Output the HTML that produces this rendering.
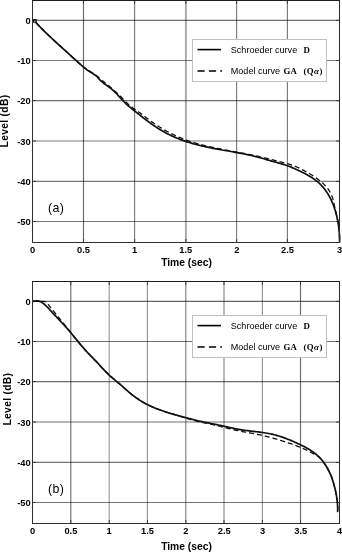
<!DOCTYPE html>
<html><head><meta charset="utf-8"><title>Schroeder curve vs model curve</title>
<style>
html,body{margin:0;padding:0;background:#fff;}
body{width:342px;height:552px;overflow:hidden;}
svg{display:block;}
.gr line{mix-blend-mode:multiply;}
.tk{font-family:"Liberation Sans",Arial,sans-serif;font-weight:bold;font-size:9.3px;fill:#000;}
.ax{font-family:"Liberation Sans",Arial,sans-serif;font-weight:bold;font-size:10.3px;fill:#000;}
.ay{font-family:"Liberation Sans",Arial,sans-serif;font-weight:bold;font-size:10.2px;letter-spacing:0.35px;fill:#000;}
.lg{font-family:"Liberation Sans",Arial,sans-serif;font-size:9.05px;fill:#000;}
.lgb{font-family:"Liberation Serif","Times New Roman",serif;font-weight:bold;font-size:8.8px;fill:#000;}
.pl{font-family:"Liberation Sans",Arial,sans-serif;font-size:12.4px;letter-spacing:0.35px;fill:#000;}
</style></head>
<body>
<svg width="342" height="552" viewBox="0 0 342 552">
<rect width="342" height="552" fill="#fff"/>
<g class="gr">
<line x1="32.5" y1="20.4" x2="339.5" y2="20.4" stroke="#6e6e6e" stroke-width="1.15"/>
<line x1="32.5" y1="60.5" x2="339.5" y2="60.5" stroke="#7c7c7c" stroke-width="1.15"/>
<line x1="32.5" y1="100.6" x2="339.5" y2="100.6" stroke="#6e6e6e" stroke-width="1.15"/>
<line x1="32.5" y1="141.0" x2="339.5" y2="141.0" stroke="#7a7a7a" stroke-width="1.15"/>
<line x1="32.5" y1="181.4" x2="339.5" y2="181.4" stroke="#767676" stroke-width="1.15"/>
<line x1="32.5" y1="221.5" x2="339.5" y2="221.5" stroke="#747474" stroke-width="1.15"/>
<line x1="83.5" y1="0.5" x2="83.5" y2="242.5" stroke="#686868" stroke-width="1.15"/>
<line x1="134.6" y1="0.5" x2="134.6" y2="242.5" stroke="#7c7c7c" stroke-width="1.15"/>
<line x1="185.9" y1="0.5" x2="185.9" y2="242.5" stroke="#a8a8a8" stroke-width="1.9"/>
<line x1="236.6" y1="0.5" x2="236.6" y2="242.5" stroke="#7c7c7c" stroke-width="1.15"/>
<line x1="287.4" y1="0.5" x2="287.4" y2="242.5" stroke="#7a7a7a" stroke-width="1.15"/>
</g>
<line x1="32.5" y1="20.4" x2="36.0" y2="20.4" stroke="#3a3a3a"/>
<line x1="339.5" y1="20.4" x2="336.0" y2="20.4" stroke="#3a3a3a"/>
<line x1="32.5" y1="60.5" x2="36.0" y2="60.5" stroke="#3a3a3a"/>
<line x1="339.5" y1="60.5" x2="336.0" y2="60.5" stroke="#3a3a3a"/>
<line x1="32.5" y1="100.6" x2="36.0" y2="100.6" stroke="#3a3a3a"/>
<line x1="339.5" y1="100.6" x2="336.0" y2="100.6" stroke="#3a3a3a"/>
<line x1="32.5" y1="141.0" x2="36.0" y2="141.0" stroke="#3a3a3a"/>
<line x1="339.5" y1="141.0" x2="336.0" y2="141.0" stroke="#3a3a3a"/>
<line x1="32.5" y1="181.4" x2="36.0" y2="181.4" stroke="#3a3a3a"/>
<line x1="339.5" y1="181.4" x2="336.0" y2="181.4" stroke="#3a3a3a"/>
<line x1="32.5" y1="221.5" x2="36.0" y2="221.5" stroke="#3a3a3a"/>
<line x1="339.5" y1="221.5" x2="336.0" y2="221.5" stroke="#3a3a3a"/>
<line x1="83.5" y1="0.5" x2="83.5" y2="4.0" stroke="#3a3a3a"/>
<line x1="83.5" y1="242.5" x2="83.5" y2="239.0" stroke="#3a3a3a"/>
<line x1="134.6" y1="0.5" x2="134.6" y2="4.0" stroke="#3a3a3a"/>
<line x1="134.6" y1="242.5" x2="134.6" y2="239.0" stroke="#3a3a3a"/>
<line x1="185.9" y1="0.5" x2="185.9" y2="4.0" stroke="#3a3a3a"/>
<line x1="185.9" y1="242.5" x2="185.9" y2="239.0" stroke="#3a3a3a"/>
<line x1="236.6" y1="0.5" x2="236.6" y2="4.0" stroke="#3a3a3a"/>
<line x1="236.6" y1="242.5" x2="236.6" y2="239.0" stroke="#3a3a3a"/>
<line x1="287.4" y1="0.5" x2="287.4" y2="4.0" stroke="#3a3a3a"/>
<line x1="287.4" y1="242.5" x2="287.4" y2="239.0" stroke="#3a3a3a"/>
<rect x="192.5" y="39.5" width="134" height="42" fill="#fff" stroke="#c0c0c0" stroke-width="1"/>
<line x1="197.5" y1="49.6" x2="221" y2="49.6" stroke="#000" stroke-width="1.6"/>
<line x1="197.5" y1="71.0" x2="222" y2="71.0" stroke="#000" stroke-width="1.4" stroke-dasharray="7.2,4.2"/>
<text x="230.8" y="52.6" class="lg">Schroeder curve</text>
<text x="303.4" y="52.6" class="lgb">D</text>
<text x="230.8" y="73.8" class="lg">Model curve</text>
<text x="283.6" y="73.8" class="lgb">GA</text>
<text x="303.4" y="73.8" class="lgb" letter-spacing="0.45">(Q<tspan font-style="italic">α</tspan>)</text>
<polyline points="35.85,22.35 36.83,23.48 37.83,24.61 38.84,25.71 39.87,26.81 40.90,27.89 41.95,28.97 43.00,30.03 44.06,31.08 45.14,32.12 46.22,33.16 47.30,34.19 48.39,35.21 49.49,36.23 50.59,37.24 51.70,38.24 52.81,39.25 53.92,40.25 55.03,41.25 56.15,42.25 57.26,43.25 58.37,44.25 59.49,45.25 60.60,46.25 61.70,47.26 62.81,48.27 63.91,49.29 65.00,50.31 66.09,51.34 67.18,52.37 68.26,53.40 69.34,54.44 70.43,55.47 71.51,56.51 72.60,57.54 73.69,58.56 74.79,59.58 75.89,60.59 77.01,61.58 78.14,62.57 79.28,63.54 80.43,64.49 81.59,65.43 82.78,66.35 83.97,67.25 85.19,68.13 86.41,68.98 87.66,69.81 88.92,70.61 90.20,71.39 91.47,72.18 92.74,72.97 93.98,73.78 95.19,74.64 96.37,75.54 97.51,76.49 98.62,77.48 99.73,78.47 100.84,79.47 101.98,80.44 103.14,81.38 104.31,82.31 105.49,83.24 106.68,84.15 107.86,85.08 109.02,86.01 110.18,86.96 111.33,87.93 112.46,88.90 113.58,89.89 114.69,90.88 115.79,91.89 116.89,92.91 117.97,93.94 119.05,94.98 120.11,96.03 121.17,97.08 122.22,98.15 123.27,99.22 124.31,100.30 125.36,101.38 126.41,102.45 127.48,103.50 128.56,104.52 129.68,105.52 130.83,106.47 132.00,107.38 133.21,108.27 134.43,109.13 135.67,109.98 136.91,110.82 138.15,111.67 139.39,112.52 140.61,113.39 141.82,114.28 143.02,115.18 144.21,116.10 145.39,117.02 146.57,117.94 147.76,118.85 148.95,119.76 150.14,120.66 151.35,121.54 152.56,122.40 153.79,123.25 155.03,124.09 156.27,124.91 157.52,125.72 158.79,126.51 160.06,127.30 161.34,128.08 162.63,128.84 163.93,129.59 165.23,130.34 166.54,131.07 167.86,131.78 169.19,132.49 170.53,133.18 171.87,133.86 173.22,134.52 174.58,135.17 175.94,135.81 177.30,136.43 178.68,137.03 180.06,137.62 181.44,138.19 182.83,138.74 184.22,139.28 185.62,139.81 187.03,140.32 188.44,140.81 189.85,141.29 191.26,141.76 192.69,142.22 194.11,142.66 195.54,143.09 196.97,143.51 198.41,143.92 199.85,144.31 201.29,144.70 202.74,145.08 204.18,145.45 205.64,145.80 207.09,146.15 208.55,146.50 210.00,146.83 211.46,147.16 212.93,147.48 214.39,147.79 215.86,148.10 217.33,148.40 218.80,148.70 220.27,148.99 221.74,149.28 223.21,149.57 224.69,149.85 226.16,150.13 227.63,150.41 229.11,150.68 230.59,150.96 232.06,151.23 233.54,151.50 235.01,151.78 236.49,152.05 237.96,152.32 239.44,152.60 240.91,152.87 242.38,153.15 243.85,153.43 245.32,153.72 246.79,154.00 248.26,154.30 249.72,154.59 251.19,154.89 252.65,155.20 254.11,155.51 255.57,155.82 257.03,156.14 258.48,156.47 259.94,156.79 261.39,157.13 262.84,157.46 264.30,157.80 265.75,158.15 267.20,158.50 268.65,158.85 270.11,159.21 271.56,159.57 273.01,159.93 274.46,160.30 275.91,160.67 277.37,161.04 278.82,161.42 280.28,161.80 281.73,162.18 283.19,162.57 284.64,162.95 286.09,163.34 287.54,163.74 288.97,164.15 290.40,164.58 291.82,165.04 293.23,165.53 294.62,166.05 296.00,166.61 297.37,167.22 298.72,167.87 300.06,168.54 301.39,169.22 302.71,169.92 304.03,170.62 305.35,171.33 306.65,172.05 307.95,172.78 309.24,173.52 310.53,174.28 311.80,175.05 313.06,175.85 314.31,176.66 315.54,177.50 316.76,178.36 317.97,179.24 319.17,180.16 320.34,181.10 321.50,182.07 322.63,183.08 323.74,184.11 324.81,185.18 325.84,186.28 326.83,187.41 327.76,188.58 328.64,189.79 329.46,191.03 330.21,192.30 330.90,193.61 331.50,194.96 332.03,196.35 332.50,197.76 332.92,199.19 333.31,200.65 333.66,202.11 333.99,203.58 334.32,205.05 334.64,206.52 334.96,207.99 335.28,209.45 335.60,210.92 335.92,212.38 336.25,213.84 336.58,215.30 336.90,216.76 337.23,218.22 337.54,219.68 337.84,221.15 338.12,222.62 338.37,224.09 338.60,225.57 338.80,227.05 338.98,228.54 339.14,230.03 339.27,231.52 339.38,233.02 339.47,234.52 339.54,236.01 339.58,237.51 339.61,239.01 339.61,240.51 339.60,242.00" fill="none" stroke="#111" stroke-width="1.3" stroke-dasharray="5,3"/>
<polyline points="35.79,22.41 36.81,23.51 37.84,24.59 38.88,25.68 39.92,26.75 40.96,27.82 42.02,28.89 43.07,29.95 44.14,31.00 45.20,32.05 46.28,33.09 47.35,34.13 48.43,35.16 49.52,36.20 50.60,37.22 51.69,38.25 52.79,39.27 53.88,40.29 54.98,41.30 56.08,42.31 57.18,43.32 58.29,44.33 59.39,45.34 60.50,46.35 61.61,47.35 62.72,48.36 63.83,49.36 64.94,50.36 66.05,51.37 67.16,52.37 68.27,53.37 69.38,54.38 70.49,55.38 71.60,56.39 72.70,57.40 73.81,58.41 74.91,59.42 76.01,60.44 77.12,61.45 78.22,62.46 79.33,63.47 80.44,64.47 81.56,65.46 82.70,66.43 83.85,67.39 85.01,68.33 86.19,69.24 87.39,70.13 88.62,70.99 89.87,71.81 91.15,72.61 92.44,73.38 93.72,74.16 94.97,74.96 96.15,75.83 97.22,76.81 98.18,77.92 99.12,79.07 100.11,80.18 101.18,81.22 102.30,82.20 103.48,83.13 104.68,84.03 105.91,84.90 107.15,85.75 108.38,86.61 109.61,87.48 110.81,88.38 111.98,89.31 113.10,90.29 114.20,91.30 115.27,92.35 116.31,93.42 117.34,94.51 118.35,95.62 119.36,96.73 120.36,97.85 121.37,98.96 122.38,100.06 123.41,101.15 124.45,102.23 125.52,103.27 126.61,104.29 127.72,105.28 128.84,106.26 129.98,107.22 131.14,108.16 132.30,109.10 133.47,110.03 134.64,110.96 135.81,111.89 136.98,112.82 138.16,113.75 139.33,114.68 140.51,115.61 141.69,116.54 142.87,117.46 144.05,118.38 145.24,119.29 146.43,120.20 147.63,121.10 148.83,121.99 150.03,122.87 151.25,123.75 152.47,124.61 153.69,125.46 154.93,126.31 156.17,127.14 157.42,127.95 158.68,128.75 159.95,129.54 161.23,130.31 162.52,131.07 163.82,131.81 165.13,132.53 166.45,133.23 167.79,133.92 169.13,134.59 170.48,135.24 171.84,135.88 173.21,136.50 174.58,137.10 175.96,137.69 177.34,138.26 178.72,138.82 180.12,139.36 181.51,139.89 182.91,140.40 184.32,140.90 185.73,141.38 187.15,141.85 188.57,142.31 189.99,142.75 191.42,143.18 192.86,143.59 194.29,143.99 195.74,144.38 197.18,144.76 198.63,145.13 200.08,145.49 201.53,145.84 202.99,146.18 204.45,146.51 205.91,146.83 207.38,147.15 208.84,147.45 210.31,147.75 211.78,148.05 213.25,148.34 214.73,148.62 216.20,148.90 217.68,149.17 219.15,149.44 220.63,149.70 222.11,149.97 223.58,150.23 225.06,150.49 226.54,150.75 228.01,151.00 229.49,151.26 230.97,151.52 232.44,151.78 233.92,152.04 235.39,152.30 236.86,152.56 238.34,152.83 239.81,153.11 241.27,153.39 242.74,153.67 244.21,153.96 245.67,154.26 247.13,154.56 248.59,154.87 250.05,155.20 251.51,155.53 252.96,155.87 254.41,156.22 255.86,156.58 257.31,156.96 258.75,157.34 260.19,157.74 261.63,158.14 263.07,158.55 264.51,158.97 265.95,159.39 267.38,159.81 268.82,160.23 270.26,160.65 271.70,161.07 273.15,161.48 274.59,161.89 276.04,162.29 277.49,162.69 278.94,163.09 280.38,163.50 281.82,163.92 283.25,164.35 284.68,164.80 286.09,165.27 287.49,165.77 288.88,166.29 290.27,166.83 291.64,167.39 293.01,167.96 294.38,168.56 295.74,169.17 297.09,169.79 298.45,170.43 299.80,171.08 301.16,171.74 302.51,172.41 303.86,173.09 305.20,173.79 306.53,174.51 307.85,175.24 309.16,175.99 310.45,176.77 311.73,177.57 312.98,178.39 314.21,179.24 315.42,180.12 316.60,181.02 317.76,181.96 318.88,182.93 319.97,183.94 321.02,184.98 322.04,186.06 323.02,187.16 323.97,188.30 324.88,189.47 325.77,190.67 326.62,191.90 327.43,193.15 328.22,194.42 328.97,195.72 329.70,197.04 330.39,198.38 331.06,199.73 331.69,201.10 332.30,202.49 332.88,203.89 333.43,205.30 333.95,206.72 334.45,208.15 334.92,209.58 335.37,211.03 335.79,212.47 336.19,213.92 336.56,215.37 336.91,216.82 337.23,218.27 337.54,219.73 337.82,221.18 338.08,222.64 338.31,224.11 338.53,225.57 338.72,227.04 338.90,228.52 339.05,229.99 339.18,231.48 339.30,232.96 339.39,234.46 339.47,235.96 339.52,237.46 339.56,238.97 339.58,240.49 339.59,242.02" fill="none" stroke="#111" stroke-width="1.7" stroke-linejoin="round" stroke-linecap="round"/>
<rect x="33.5" y="19.6" width="2.6" height="2.6" fill="none" stroke="#111" stroke-width="1.1"/>
<line x1="32.0" y1="0.5" x2="340.0" y2="0.5" stroke="#1c1c1c"/>
<line x1="32.5" y1="0.5" x2="32.5" y2="243.0" stroke="#303030"/>
<line x1="339.5" y1="0.5" x2="339.5" y2="243.0" stroke="#282828"/>
<line x1="32.5" y1="242.5" x2="340.0" y2="242.5" stroke="#303030"/>
<text x="30.7" y="23.9" class="tk" text-anchor="end">0</text>
<text x="30.7" y="64.0" class="tk" text-anchor="end">-10</text>
<text x="30.7" y="104.1" class="tk" text-anchor="end">-20</text>
<text x="30.7" y="144.5" class="tk" text-anchor="end">-30</text>
<text x="30.7" y="184.9" class="tk" text-anchor="end">-40</text>
<text x="30.7" y="225.0" class="tk" text-anchor="end">-50</text>
<text x="32.5" y="253.1" class="tk" text-anchor="middle">0</text>
<text x="83.5" y="253.1" class="tk" text-anchor="middle">0.5</text>
<text x="134.5" y="253.1" class="tk" text-anchor="middle">1</text>
<text x="185.8" y="253.1" class="tk" text-anchor="middle">1.5</text>
<text x="236.8" y="253.1" class="tk" text-anchor="middle">2</text>
<text x="287.5" y="253.1" class="tk" text-anchor="middle">2.5</text>
<text x="339.5" y="253.1" class="tk" text-anchor="middle">3</text>
<text x="186.5" y="265.6" class="ax" text-anchor="middle">Time (sec)</text>
<text transform="translate(8.0,121) rotate(-90)" class="ay" text-anchor="middle">Level (dB)</text>
<text x="48" y="212.3" class="pl">(a)</text>
<g class="gr">
<line x1="32.5" y1="301.4" x2="339.5" y2="301.4" stroke="#666666" stroke-width="1.15"/>
<line x1="32.5" y1="341.5" x2="339.5" y2="341.5" stroke="#6e6e6e" stroke-width="1.15"/>
<line x1="32.5" y1="381.6" x2="339.5" y2="381.6" stroke="#6e6e6e" stroke-width="1.15"/>
<line x1="32.5" y1="422.0" x2="339.5" y2="422.0" stroke="#707070" stroke-width="1.15"/>
<line x1="32.5" y1="462.4" x2="339.5" y2="462.4" stroke="#747474" stroke-width="1.15"/>
<line x1="32.5" y1="502.5" x2="339.5" y2="502.5" stroke="#747474" stroke-width="1.15"/>
<line x1="70.8" y1="281.5" x2="70.8" y2="523.5" stroke="#727272" stroke-width="1.15"/>
<line x1="109.2" y1="281.5" x2="109.2" y2="523.5" stroke="#9a9a9a" stroke-width="1.15"/>
<line x1="147.4" y1="281.5" x2="147.4" y2="523.5" stroke="#969696" stroke-width="1.15"/>
<line x1="185.8" y1="281.5" x2="185.8" y2="523.5" stroke="#828282" stroke-width="1.15"/>
<line x1="224.0" y1="281.5" x2="224.0" y2="523.5" stroke="#868686" stroke-width="1.15"/>
<line x1="262.4" y1="281.5" x2="262.4" y2="523.5" stroke="#929292" stroke-width="1.15"/>
<line x1="300.5" y1="281.5" x2="300.5" y2="523.5" stroke="#6c6c6c" stroke-width="1.15"/>
</g>
<line x1="32.5" y1="301.4" x2="36.0" y2="301.4" stroke="#3a3a3a"/>
<line x1="339.5" y1="301.4" x2="336.0" y2="301.4" stroke="#3a3a3a"/>
<line x1="32.5" y1="341.5" x2="36.0" y2="341.5" stroke="#3a3a3a"/>
<line x1="339.5" y1="341.5" x2="336.0" y2="341.5" stroke="#3a3a3a"/>
<line x1="32.5" y1="381.6" x2="36.0" y2="381.6" stroke="#3a3a3a"/>
<line x1="339.5" y1="381.6" x2="336.0" y2="381.6" stroke="#3a3a3a"/>
<line x1="32.5" y1="422.0" x2="36.0" y2="422.0" stroke="#3a3a3a"/>
<line x1="339.5" y1="422.0" x2="336.0" y2="422.0" stroke="#3a3a3a"/>
<line x1="32.5" y1="462.4" x2="36.0" y2="462.4" stroke="#3a3a3a"/>
<line x1="339.5" y1="462.4" x2="336.0" y2="462.4" stroke="#3a3a3a"/>
<line x1="32.5" y1="502.5" x2="36.0" y2="502.5" stroke="#3a3a3a"/>
<line x1="339.5" y1="502.5" x2="336.0" y2="502.5" stroke="#3a3a3a"/>
<line x1="70.8" y1="281.5" x2="70.8" y2="285.0" stroke="#3a3a3a"/>
<line x1="70.8" y1="523.5" x2="70.8" y2="520.0" stroke="#3a3a3a"/>
<line x1="109.2" y1="281.5" x2="109.2" y2="285.0" stroke="#3a3a3a"/>
<line x1="109.2" y1="523.5" x2="109.2" y2="520.0" stroke="#3a3a3a"/>
<line x1="147.4" y1="281.5" x2="147.4" y2="285.0" stroke="#3a3a3a"/>
<line x1="147.4" y1="523.5" x2="147.4" y2="520.0" stroke="#3a3a3a"/>
<line x1="185.8" y1="281.5" x2="185.8" y2="285.0" stroke="#3a3a3a"/>
<line x1="185.8" y1="523.5" x2="185.8" y2="520.0" stroke="#3a3a3a"/>
<line x1="224.0" y1="281.5" x2="224.0" y2="285.0" stroke="#3a3a3a"/>
<line x1="224.0" y1="523.5" x2="224.0" y2="520.0" stroke="#3a3a3a"/>
<line x1="262.4" y1="281.5" x2="262.4" y2="285.0" stroke="#3a3a3a"/>
<line x1="262.4" y1="523.5" x2="262.4" y2="520.0" stroke="#3a3a3a"/>
<line x1="300.5" y1="281.5" x2="300.5" y2="285.0" stroke="#3a3a3a"/>
<line x1="300.5" y1="523.5" x2="300.5" y2="520.0" stroke="#3a3a3a"/>
<rect x="192.5" y="315.5" width="134" height="42" fill="#fff" stroke="#c0c0c0" stroke-width="1"/>
<line x1="197.5" y1="325.6" x2="221" y2="325.6" stroke="#000" stroke-width="1.6"/>
<line x1="197.5" y1="347.0" x2="222" y2="347.0" stroke="#000" stroke-width="1.4" stroke-dasharray="7.2,4.2"/>
<text x="230.8" y="328.6" class="lg">Schroeder curve</text>
<text x="303.4" y="328.6" class="lgb">D</text>
<text x="230.8" y="349.8" class="lg">Model curve</text>
<text x="283.6" y="349.8" class="lgb">GA</text>
<text x="303.4" y="349.8" class="lgb" letter-spacing="0.45">(Q<tspan font-style="italic">α</tspan>)</text>
<polyline points="33.00,301.30 34.49,301.42 35.98,301.47 37.47,301.46 38.96,301.44 40.47,301.41 41.98,301.41 43.51,301.47 45.03,301.63 46.36,302.15 47.33,303.21 48.22,304.40 49.12,305.59 50.02,306.77 50.94,307.95 51.86,309.13 52.79,310.30 53.73,311.46 54.67,312.63 55.61,313.78 56.56,314.94 57.51,316.09 58.46,317.24 59.42,318.39 60.37,319.54 61.32,320.69 62.27,321.84 63.21,322.99 64.15,324.15 65.09,325.32 66.01,326.49 66.94,327.66 67.86,328.84 68.78,330.02 69.70,331.20 70.61,332.38 71.53,333.56 72.45,334.73 73.38,335.91 74.30,337.08 75.23,338.25 76.17,339.42 77.12,340.57 78.07,341.73 79.03,342.87 80.00,344.01 80.97,345.14 81.96,346.27 82.95,347.39 83.94,348.50 84.94,349.61 85.95,350.72 86.96,351.82 87.98,352.92 89.00,354.01 90.02,355.10 91.05,356.19 92.08,357.28 93.10,358.36 94.13,359.45 95.17,360.53 96.20,361.62 97.23,362.70 98.26,363.79 99.29,364.87 100.32,365.95 101.35,367.03 102.39,368.11 103.42,369.18 104.47,370.25 105.52,371.32 106.57,372.37 107.63,373.42 108.70,374.46 109.78,375.49 110.87,376.52 111.97,377.53 113.07,378.53 114.20,379.51 115.33,380.49 116.47,381.45 117.62,382.41 118.77,383.37 119.92,384.33 121.07,385.28 122.22,386.25 123.35,387.21 124.49,388.19 125.61,389.17 126.74,390.15 127.87,391.13 129.00,392.10 130.14,393.06 131.28,394.02 132.44,394.96 133.61,395.88 134.80,396.79 136.00,397.67 137.22,398.54 138.46,399.38 139.71,400.20 140.98,401.00 142.26,401.78 143.55,402.53 144.86,403.27 146.18,403.98 147.51,404.67 148.85,405.34 150.20,405.99 151.56,406.62 152.93,407.22 154.31,407.80 155.69,408.36 157.08,408.90 158.48,409.42 159.89,409.92 161.30,410.41 162.71,410.89 164.13,411.35 165.55,411.80 166.98,412.25 168.41,412.69 169.84,413.12 171.27,413.55 172.70,413.98 174.13,414.41 175.57,414.84 177.00,415.27 178.43,415.71 179.86,416.15 181.29,416.60 182.71,417.05 184.14,417.51 185.57,417.97 186.99,418.42 188.42,418.87 189.85,419.31 191.28,419.73 192.72,420.15 194.16,420.55 195.60,420.93 197.05,421.29 198.50,421.64 199.96,421.97 201.42,422.29 202.88,422.60 204.34,422.91 205.81,423.21 207.27,423.51 208.74,423.81 210.20,424.11 211.67,424.41 213.13,424.73 214.59,425.05 216.05,425.38 217.50,425.73 218.96,426.08 220.41,426.44 221.86,426.80 223.31,427.16 224.76,427.53 226.21,427.89 227.66,428.26 229.11,428.62 230.57,428.97 232.02,429.32 233.48,429.67 234.93,430.00 236.39,430.32 237.85,430.63 239.32,430.93 240.79,431.22 242.25,431.50 243.72,431.78 245.20,432.05 246.67,432.31 248.14,432.58 249.61,432.85 251.08,433.12 252.55,433.39 254.02,433.67 255.49,433.96 256.95,434.26 258.42,434.56 259.88,434.88 261.33,435.21 262.79,435.55 264.24,435.89 265.70,436.25 267.15,436.62 268.59,436.99 270.04,437.38 271.48,437.77 272.92,438.17 274.36,438.58 275.80,438.99 277.23,439.41 278.66,439.84 280.09,440.28 281.52,440.72 282.95,441.17 284.38,441.62 285.80,442.08 287.22,442.54 288.64,443.01 290.05,443.49 291.47,443.98 292.88,444.47 294.28,444.98 295.68,445.50 297.08,446.03 298.47,446.57 299.86,447.13 301.24,447.70 302.62,448.29 303.98,448.89 305.34,449.51 306.69,450.15 308.04,450.81 309.37,451.48 310.69,452.17 312.01,452.88 313.32,453.60 314.62,454.34 315.92,455.08 317.22,455.82 318.49,456.61 319.68,457.47 320.77,458.46 321.76,459.55 322.67,460.73 323.51,461.97 324.31,463.26 325.08,464.58 325.83,465.92 326.58,467.24 327.34,468.54 328.12,469.82 328.88,471.09 329.62,472.37 330.32,473.66 330.95,474.99 331.51,476.36 332.02,477.76 332.48,479.18 332.89,480.63 333.28,482.09 333.65,483.56 334.01,485.02 334.37,486.49 334.73,487.95 335.08,489.41 335.42,490.87 335.74,492.33 336.05,493.79 336.35,495.25 336.62,496.71 336.87,498.18 337.09,499.65 337.28,501.12 337.44,502.60 337.57,504.08 337.66,505.57 337.70,507.07 337.71,508.57 337.67,510.09 337.58,511.61" fill="none" stroke="#111" stroke-width="1.3" stroke-dasharray="5,3"/>
<polyline points="32.98,301.34 34.57,301.03 36.13,300.88 37.64,300.92 39.09,301.15 40.45,301.60 41.72,302.26 42.91,303.09 44.06,304.02 45.17,305.00 46.24,306.03 47.30,307.09 48.33,308.19 49.36,309.29 50.38,310.41 51.39,311.53 52.42,312.64 53.44,313.75 54.47,314.85 55.49,315.94 56.52,317.03 57.55,318.12 58.58,319.21 59.61,320.30 60.63,321.39 61.66,322.48 62.68,323.57 63.69,324.67 64.70,325.77 65.70,326.87 66.70,327.99 67.69,329.11 68.67,330.24 69.64,331.37 70.61,332.52 71.57,333.67 72.53,334.82 73.48,335.98 74.43,337.14 75.38,338.31 76.33,339.47 77.28,340.64 78.23,341.80 79.19,342.96 80.15,344.11 81.11,345.26 82.08,346.41 83.05,347.55 84.04,348.68 85.03,349.80 86.03,350.92 87.05,352.02 88.07,353.11 89.11,354.19 90.15,355.26 91.20,356.33 92.25,357.40 93.30,358.46 94.35,359.53 95.39,360.61 96.43,361.69 97.46,362.78 98.48,363.88 99.49,364.99 100.50,366.11 101.50,367.22 102.51,368.33 103.53,369.44 104.55,370.53 105.59,371.62 106.64,372.68 107.71,373.73 108.80,374.76 109.91,375.76 111.04,376.74 112.19,377.71 113.34,378.67 114.50,379.62 115.66,380.57 116.81,381.53 117.96,382.49 119.09,383.47 120.22,384.45 121.33,385.45 122.44,386.45 123.55,387.46 124.66,388.46 125.77,389.46 126.90,390.45 128.03,391.43 129.17,392.40 130.33,393.35 131.50,394.29 132.68,395.21 133.88,396.12 135.09,397.01 136.32,397.88 137.55,398.73 138.80,399.56 140.06,400.38 141.34,401.17 142.62,401.95 143.92,402.70 145.23,403.43 146.55,404.14 147.88,404.82 149.22,405.48 150.57,406.12 151.93,406.74 153.30,407.34 154.68,407.92 156.07,408.48 157.46,409.03 158.86,409.56 160.27,410.07 161.68,410.57 163.10,411.05 164.52,411.53 165.95,411.99 167.38,412.44 168.81,412.89 170.25,413.32 171.69,413.75 173.13,414.17 174.57,414.59 176.01,415.00 177.46,415.40 178.90,415.81 180.35,416.20 181.79,416.60 183.24,416.99 184.69,417.38 186.13,417.76 187.58,418.14 189.03,418.52 190.48,418.90 191.93,419.28 193.38,419.64 194.83,420.01 196.28,420.36 197.74,420.71 199.20,421.05 200.66,421.38 202.12,421.70 203.59,422.01 205.06,422.32 206.53,422.62 208.00,422.91 209.48,423.20 210.95,423.49 212.43,423.78 213.90,424.07 215.37,424.37 216.84,424.66 218.31,424.96 219.78,425.27 221.24,425.58 222.70,425.90 224.16,426.23 225.62,426.56 227.08,426.89 228.54,427.22 229.99,427.55 231.45,427.87 232.91,428.19 234.37,428.50 235.84,428.80 237.31,429.08 238.78,429.36 240.25,429.62 241.73,429.86 243.21,430.09 244.70,430.30 246.19,430.51 247.68,430.70 249.18,430.88 250.68,431.06 252.17,431.24 253.67,431.41 255.17,431.59 256.67,431.76 258.16,431.94 259.66,432.13 261.15,432.33 262.64,432.53 264.12,432.75 265.60,432.98 267.08,433.23 268.55,433.50 270.02,433.79 271.48,434.10 272.93,434.43 274.38,434.79 275.82,435.17 277.25,435.58 278.68,436.00 280.10,436.45 281.52,436.91 282.93,437.39 284.34,437.90 285.74,438.41 287.14,438.95 288.53,439.50 289.92,440.06 291.31,440.64 292.69,441.23 294.07,441.83 295.44,442.44 296.81,443.07 298.18,443.70 299.54,444.35 300.90,445.00 302.26,445.67 303.60,446.36 304.93,447.06 306.25,447.78 307.56,448.52 308.85,449.28 310.12,450.07 311.37,450.88 312.60,451.72 313.81,452.59 315.00,453.49 316.15,454.43 317.29,455.39 318.39,456.40 319.45,457.44 320.49,458.52 321.49,459.64 322.46,460.79 323.39,461.97 324.29,463.19 325.15,464.43 325.97,465.69 326.76,466.97 327.51,468.27 328.22,469.59 328.89,470.93 329.53,472.28 330.14,473.64 330.71,475.02 331.26,476.41 331.78,477.81 332.28,479.22 332.75,480.64 333.20,482.07 333.63,483.50 334.05,484.94 334.44,486.39 334.82,487.85 335.17,489.30 335.51,490.77 335.83,492.23 336.12,493.71 336.39,495.18 336.64,496.66 336.86,498.14 337.06,499.63 337.23,501.12 337.37,502.61 337.49,504.11 337.57,505.60 337.63,507.10 337.65,508.60 337.64,510.10 337.60,511.60" fill="none" stroke="#111" stroke-width="1.7" stroke-linejoin="round" stroke-linecap="round"/>
<line x1="32.0" y1="281.5" x2="340.0" y2="281.5" stroke="#1c1c1c"/>
<line x1="32.5" y1="281.5" x2="32.5" y2="524.0" stroke="#303030"/>
<line x1="339.5" y1="281.5" x2="339.5" y2="524.0" stroke="#282828"/>
<line x1="32.5" y1="523.5" x2="340.0" y2="523.5" stroke="#303030"/>
<text x="30.7" y="304.9" class="tk" text-anchor="end">0</text>
<text x="30.7" y="345.0" class="tk" text-anchor="end">-10</text>
<text x="30.7" y="385.1" class="tk" text-anchor="end">-20</text>
<text x="30.7" y="425.5" class="tk" text-anchor="end">-30</text>
<text x="30.7" y="465.9" class="tk" text-anchor="end">-40</text>
<text x="30.7" y="506.0" class="tk" text-anchor="end">-50</text>
<text x="32.5" y="534.1" class="tk" text-anchor="middle">0</text>
<text x="70.9" y="534.1" class="tk" text-anchor="middle">0.5</text>
<text x="109.2" y="534.1" class="tk" text-anchor="middle">1</text>
<text x="147.5" y="534.1" class="tk" text-anchor="middle">1.5</text>
<text x="185.8" y="534.1" class="tk" text-anchor="middle">2</text>
<text x="224.2" y="534.1" class="tk" text-anchor="middle">2.5</text>
<text x="262.5" y="534.1" class="tk" text-anchor="middle">3</text>
<text x="300.8" y="534.1" class="tk" text-anchor="middle">3.5</text>
<text x="339.5" y="534.1" class="tk" text-anchor="middle">4</text>
<text x="186.5" y="549.6" class="ax" text-anchor="middle">Time (sec)</text>
<text transform="translate(10.6,399.1) rotate(-90)" class="ay" text-anchor="middle">Level (dB)</text>
<text x="48" y="492.5" class="pl">(b)</text>
</svg>
</body></html>
